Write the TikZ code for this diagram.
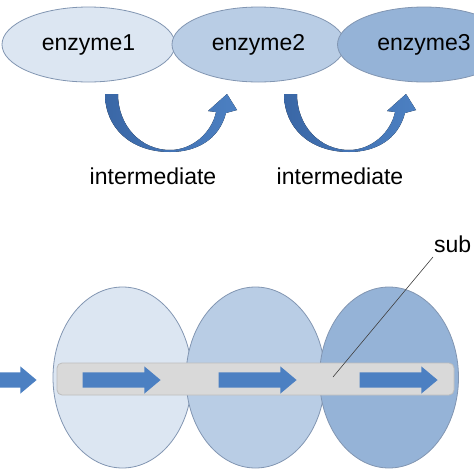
\documentclass[tikz,border=0pt]{standalone}
\usepackage{fontspec}
\setmainfont{Liberation Sans}
\usepackage{tikz}
\usetikzlibrary{shapes.geometric,shapes.arrows}
\definecolor{EnzLight}{HTML}{DCE6F2}
\definecolor{EnzMid}{HTML}{B9CDE5}
\definecolor{EnzDark}{HTML}{95B3D7}
\definecolor{EnzLine}{HTML}{8296B2}
\definecolor{FlowBlue}{HTML}{4C80C2}
\definecolor{FlowDeep}{HTML}{3A67A6}
\definecolor{BarGray}{HTML}{D9D9D9}
\definecolor{BarLine}{HTML}{BDBDBD}
\tikzset{
  enzyme/.style={ellipse, draw=EnzLine, line width=0.8pt, inner sep=0pt,
                 minimum width=173pt, minimum height=75pt},
  subunit/.style={ellipse, draw=EnzLine, line width=0.8pt, inner sep=0pt,
                 minimum width=139pt, minimum height=181pt},
  channel/.style={rectangle, rounded corners=5pt, draw=BarLine, fill=BarGray,
                  line width=0.8pt, inner sep=0pt, minimum width=397pt, minimum height=32pt},
  blockarrow/.style={single arrow, fill=FlowBlue, inner xsep=0pt, inner ysep=7.5pt,
                     text height=0pt, text depth=0pt, minimum height=78pt, minimum width=27pt,
                     single arrow head extend=6pt, single arrow tip angle=80},
  pics/uturn/.style={code={
    \fill[left color=FlowDeep, right color=FlowBlue]
      (105,94) -- (118,94)
      .. controls (118,126) and (141,150) .. (170,150)
      .. controls (193,150) and (212,132) .. (216,112)
      -- (208,111) -- (227,94) -- (237,110) -- (226,113)
      .. controls (219,140) and (196,152) .. (170,152)
      .. controls (131,152) and (105,128) .. (105,94) -- cycle;
  }}
}

\begin{document}
\begin{tikzpicture}[x=1pt, y=-1pt, font=\fontsize{23pt}{27pt}\selectfont]
  \useasboundingbox (0,0) rectangle (474,474);
  \clip (0,0) rectangle (474,474);

  % sequential enzymes
  \node[enzyme, fill=EnzLight] (e1) at (88.5,44.5) {enzyme1};
  \node[enzyme, fill=EnzMid] (e2) at (258.5,44.5) {enzyme2};
  \node[enzyme, fill=EnzDark] (e3) at (424,44.5) {enzyme3};
  \pic at (0,0) {uturn};
  \pic at (179,0) {uturn};
  \node (int1) at (153,176) {intermediate};
  \node (int2) at (340,176) {intermediate};

  % channelled complex
  \node[subunit, fill=EnzLight] (c1) at (122.5,377.5) {};
  \node[subunit, fill=EnzMid] (c2) at (255.5,377.5) {};
  \node[subunit, fill=EnzDark] (c3) at (389,377.5) {};
  \node[channel] (tube) at (255.5,379) {};
  \node[blockarrow] (a0) at (-7,380) {};
  \node[blockarrow] (a1) at (117,380) {};
  \node[blockarrow] (a2) at (253,380) {};
  \node[blockarrow] (a3) at (394,380) {};
  \node[anchor=south west, inner sep=0pt] (sub) at (434,253) {sub};
  \coordinate (subpt) at (333,377);
  \draw[line width=0.6pt, black!75] ([xshift=-1pt, yshift=-4pt]sub.south west) -- (subpt);
\end{tikzpicture}
\end{document}
